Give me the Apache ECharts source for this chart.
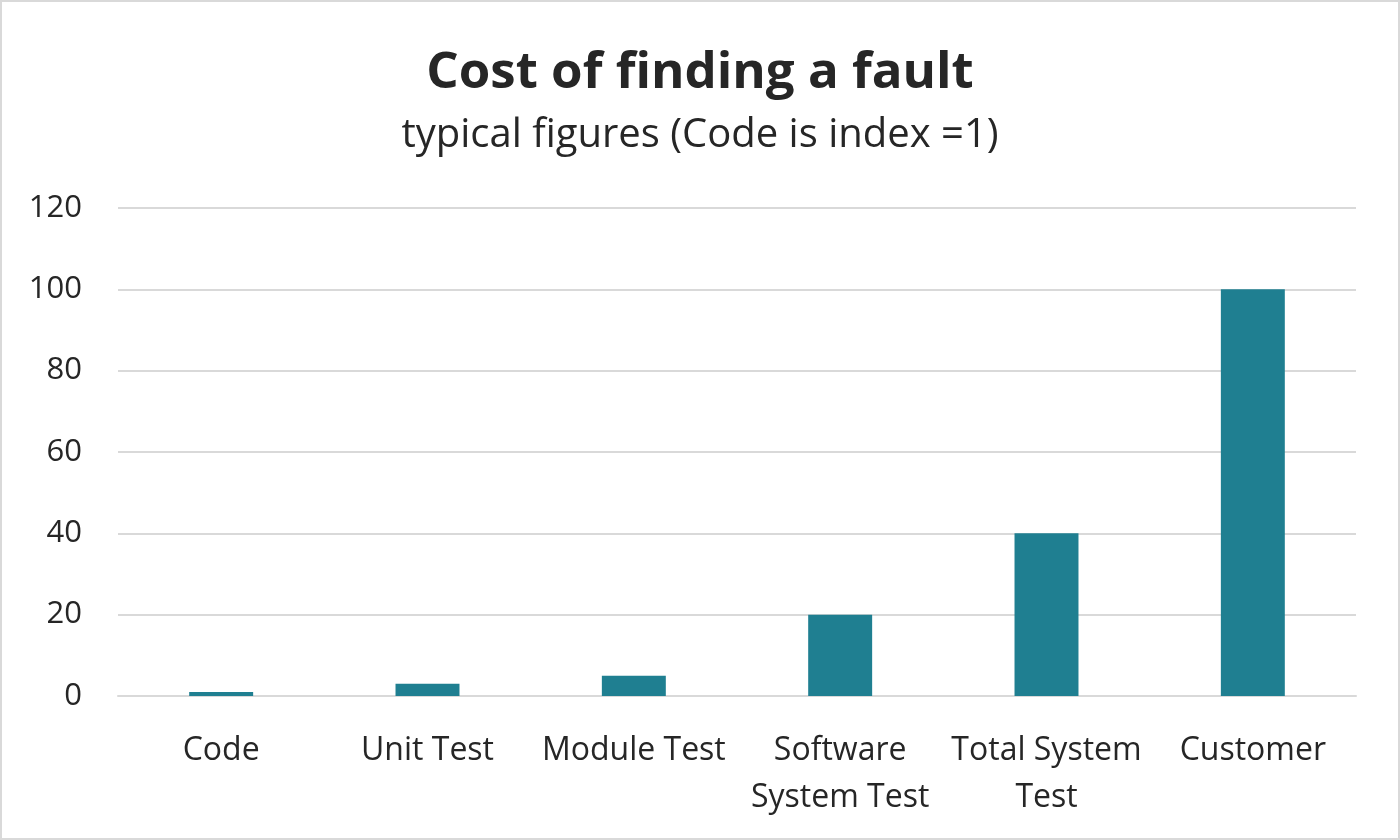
<!DOCTYPE html>
<html><head><meta charset="utf-8">
<script src="https://cdn.jsdelivr.net/npm/echarts@6/dist/echarts.min.js"></script>
<style>html,body{margin:0;padding:0;background:#fff}#c{width:1400px;height:840px;box-sizing:border-box;border:2px solid #d9d9d9}</style>
</head><body><div id="c"></div>
<script>
const categories = ["Code", "Unit Test", "Module Test", "Software\nSystem Test", "Total System\nTest", "Customer"];
const costValues = [1, 3, 5, 20, 40, 100];
const yTicks = {min: 0, max: 120, interval: 20};

const chart = echarts.init(document.getElementById('c'));
chart.setOption({
  backgroundColor: '#fff',
  animation: false,
  title: {
    text: 'Cost of finding a fault',
    subtext: 'typical figures (Code is index =1)',
    left: 'center',
    top: 38,
    itemGap: 13,
    textStyle: {fontFamily: 'Open Sans', fontWeight: 'bold', fontSize: 51, color: '#262626', lineHeight: 56},
    subtextStyle: {fontFamily: 'Open Sans', fontSize: 40, color: '#262626', lineHeight: 44}
  },
  grid: {left: 116, right: 42, top: 206, bottom: 142, containLabel: false},
  xAxis: {
    type: 'category',
    data: categories,
    axisLine: {lineStyle: {color: '#d9d9d9', width: 2}},
    axisTick: {show: false},
    axisLabel: {fontFamily: 'Open Sans', fontSize: 32, color: '#262626', margin: 31, lineHeight: 47, interval: 0}
  },
  yAxis: {
    type: 'value',
    min: yTicks.min, max: yTicks.max, interval: yTicks.interval,
    axisLine: {show: false},
    axisTick: {show: false},
    splitLine: {lineStyle: {color: '#d9d9d9', width: 2}},
    axisLabel: {fontFamily: 'Open Sans', fontSize: 31, color: '#262626', margin: 36}
  },
  series: [{
    type: 'bar',
    data: costValues,
    barWidth: '31%',
    itemStyle: {color: '#1f7f91'}
  }]
});
</script></body></html>
